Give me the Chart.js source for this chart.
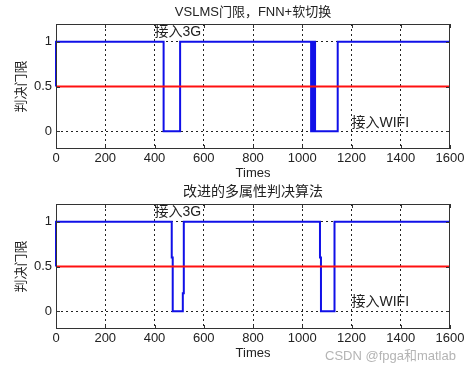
<!DOCTYPE html>
<html>
<head>
<meta charset="utf-8">
<script src="https://cdn.jsdelivr.net/npm/chart.js@4.4.0/dist/chart.umd.min.js"></script>
<style>
body{margin:0;background:#fff;width:474px;height:366px;overflow:hidden;position:relative;font-family:"Liberation Sans","Noto Sans CJK SC",sans-serif;}
canvas{position:absolute;left:0;}
#top{top:0}
#bottom{top:180px}
#mark{position:absolute;left:325px;top:345px;font-size:13px;color:#b4b4b4;white-space:nowrap}
</style>
</head>
<body>
<canvas id="top" width="474" height="180"></canvas>
<canvas id="bottom" width="474" height="186"></canvas>
<div id="mark">CSDN @fpga和matlab</div>
<script>
// switching points (time, decision value), drawn as steps
const topTimes = [0, 0, 437, 504, 1036, 1038, 1040, 1042, 1044, 1046, 1048, 1050, 1052, 1144, 1600];
const topVals  = [0.5, 1, 0, 1, 0, 1, 0, 1, 0, 1, 0, 1, 0, 1, 1];
const botTimes = [0, 0, 470, 474, 515, 519, 1072, 1076, 1131, 1600];
const botVals  = [0.5, 1, 0.6, 0, 0.2, 1, 0.6, 0, 1, 1];
// threshold line
const thrTimes = [0, 1600];
const thrVals  = [0.5, 0.5];
// axes
const yTicks = [0, 0.5, 1];
const xMin = 0, xMax = 1600, xStep = 200;
// annotations
const noteText = ['接入3G', '接入WIFI'];
const topNoteX = [400, 1200], topNoteY = [1.11, 0.09];
const botNoteX = [400, 1200], botNoteY = [1.11, 0.10];

const FONT = '"Liberation Sans", "Noto Sans CJK SC", sans-serif';
Chart.defaults.font.family = FONT;
Chart.defaults.color = '#222';

const toPts = (xs, ys) => xs.map((x, i) => ({x: x, y: ys[i]}));

const decor = {
  id: 'decor',
  afterDatasetsDraw(chart, args, opts) {
    const {ctx, chartArea: a, scales: {x, y}} = chart;
    ctx.save();
    // small inward ticks
    ctx.strokeStyle = '#333';
    ctx.lineWidth = 1;
    ctx.beginPath();
    x.ticks.forEach(t => {
      const px = Math.round(x.getPixelForValue(t.value)) + 0.5;
      ctx.moveTo(px, a.bottom); ctx.lineTo(px, a.bottom - 4);
      ctx.moveTo(px, a.top); ctx.lineTo(px, a.top + 4);
    });
    y.ticks.forEach(t => {
      const py = Math.round(y.getPixelForValue(t.value)) + 0.5;
      ctx.moveTo(a.left, py); ctx.lineTo(a.left + 4, py);
      ctx.moveTo(a.right, py); ctx.lineTo(a.right - 4, py);
    });
    ctx.stroke();
    // box
    ctx.strokeRect(a.left + 0.5, a.top + 0.5, a.width - 1, a.height - 1);
    // notes
    ctx.fillStyle = '#222';
    ctx.font = '14px ' + FONT;
    ctx.textAlign = 'left';
    ctx.textBaseline = 'middle';
    opts.notes.forEach((n, i) => {
      ctx.fillText(n, x.getPixelForValue(opts.nx[i]), y.getPixelForValue(opts.ny[i]));
    });
    // title
    ctx.font = opts.titleFont + ' ' + FONT;
    ctx.textAlign = 'center';
    ctx.fillText(opts.title, (a.left + a.right) / 2, 12);
    ctx.restore();
  }
};

function makeChart(id, title, titleFont, xs, ys, nx, ny, padBottom) {
  return new Chart(document.getElementById(id), {
    type: 'line',
    data: {
      datasets: [{
        data: toPts(thrTimes, thrVals),
        borderColor: '#ff1010',
        borderWidth: 2,
        pointRadius: 0
      }, {
        data: toPts(xs, ys),
        borderColor: '#1010e8',
        borderWidth: 2,
        pointRadius: 0,
        stepped: true,
        clip: false
      }]
    },
    options: {
      responsive: false,
      animation: false,
      layout: {padding: {left: 0, right: 24, top: 24, bottom: padBottom}},
      plugins: {
        legend: {display: false},
        tooltip: {enabled: false},
        decor: {title: title, titleFont: titleFont, notes: noteText, nx: nx, ny: ny}
      },
      scales: {
        x: {
          type: 'linear',
          min: xMin, max: xMax,
          ticks: {stepSize: xStep, padding: 2, font: {size: 13}, maxRotation: 0, autoSkip: false,
                  callback: v => String(v)},
          grid: {
            color: c => (c.tick && (c.tick.value === xMin || c.tick.value === xMax)) ? 'rgba(0,0,0,0)' : '#222',
            drawTicks: false
          },
          border: {display: false, dash: [2, 3]},
          title: {display: true, text: 'Times', font: {size: 13, lineHeight: 1}, padding: {top: 0, bottom: 0}},
          afterFit: s => { s.height = 31; }
        },
        y: {
          min: -0.2, max: 1.2,
          afterBuildTicks: s => { s.ticks = yTicks.map(v => ({value: v})); },
          ticks: {padding: 4, font: {size: 13}, callback: v => String(v)},
          grid: {color: '#222', drawTicks: false},
          border: {display: false, dash: [2, 3]},
          title: {display: true, text: '判决门限', font: {size: 13, lineHeight: 1.2}, padding: {top: 14, bottom: 0}},
          afterFit: s => { s.width = 56; }
        }
      }
    },
    plugins: [decor]
  });
}

makeChart('top', 'VSLMS门限，FNN+软切换', '13px', topTimes, topVals, topNoteX, topNoteY, 0);
makeChart('bottom', '改进的多属性判决算法', '14px', botTimes, botVals, botNoteX, botNoteY, 6);
</script>
</body>
</html>
